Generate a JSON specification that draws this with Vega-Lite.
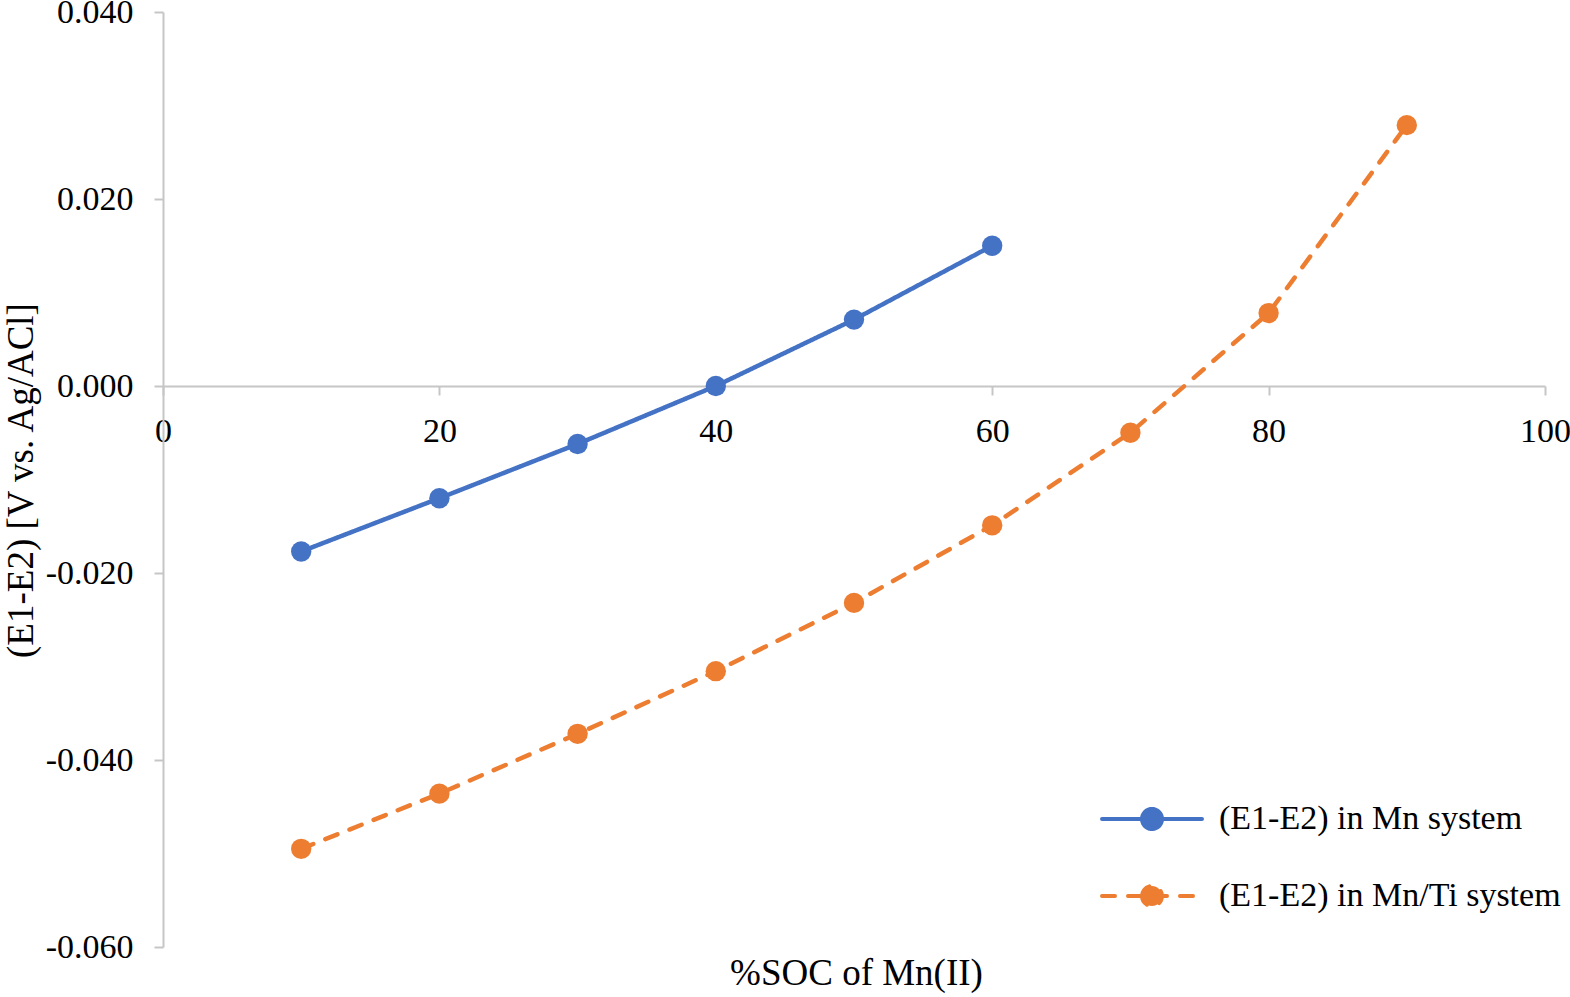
{
  "$schema": "https://vega.github.io/schema/vega-lite/v6.json",
  "width": 1382,
  "height": 935,
  "autosize": {"type": "none"},
  "padding": {"left": 163, "top": 12, "right": 25, "bottom": 50},
  "background": "white",
  "config": {
    "view": {"stroke": null},
    "font": "Liberation Serif",
    "axis": {"grid": false, "domainColor": "#c6c6c6", "domainWidth": 2, "tickColor": "#c6c6c6", "tickWidth": 2, "tickSize": 9, "labelFont": "Liberation Serif", "labelFontSize": 34, "labelColor": "#000000", "titleFont": "Liberation Serif", "titleFontSize": 37, "titleFontWeight": "normal", "titleColor": "#000000"}
  },
  "data": {
    "values": [
      {"series": "(E1-E2) in Mn system", "soc": 10, "diff": -0.0177},
      {"series": "(E1-E2) in Mn system", "soc": 20, "diff": -0.0120},
      {"series": "(E1-E2) in Mn system", "soc": 30, "diff": -0.0062},
      {"series": "(E1-E2) in Mn system", "soc": 40, "diff": 0.0},
      {"series": "(E1-E2) in Mn system", "soc": 50, "diff": 0.0071},
      {"series": "(E1-E2) in Mn system", "soc": 60, "diff": 0.0150},
      {"series": "(E1-E2) in Mn/Ti system", "soc": 10, "diff": -0.0495},
      {"series": "(E1-E2) in Mn/Ti system", "soc": 20, "diff": -0.0436},
      {"series": "(E1-E2) in Mn/Ti system", "soc": 30, "diff": -0.0372},
      {"series": "(E1-E2) in Mn/Ti system", "soc": 40, "diff": -0.0305},
      {"series": "(E1-E2) in Mn/Ti system", "soc": 50, "diff": -0.0232},
      {"series": "(E1-E2) in Mn/Ti system", "soc": 60, "diff": -0.0149},
      {"series": "(E1-E2) in Mn/Ti system", "soc": 70, "diff": -0.0050},
      {"series": "(E1-E2) in Mn/Ti system", "soc": 80, "diff": 0.0078},
      {"series": "(E1-E2) in Mn/Ti system", "soc": 90, "diff": 0.0279}
    ]
  },
  "encoding": {
    "x": {
      "field": "soc", "type": "quantitative",
      "scale": {"domain": [0, 100], "nice": false, "zero": false},
      "axis": {"title": "%SOC of Mn(II)", "values": [0, 20, 40, 60, 80, 100], "offset": -561, "labelPadding": 19, "labelOverlap": false, "labelFlush": false, "labelBound": false, "titleY": 587, "titleBaseline": "middle", "titleX": 693}
    },
    "y": {
      "field": "diff", "type": "quantitative",
      "scale": {"domain": [-0.06, 0.04], "nice": false, "zero": false},
      "axis": {
        "title": "(E1-E2) [V vs. Ag/ACl]", "values": [-0.06, -0.04, -0.02, 0, 0.02, 0.04],
        "labelExpr": "(datum.value < 0 ? '-' : '') + format(abs(datum.value), '.3f')",
        "labelPadding": 21, "labelOverlap": false, "labelFlush": false, "labelBound": false,
        "titleX": -142, "titleY": 468, "titleBaseline": "middle", "titleAngle": 270,
        "encode": {"labels": {"update": {"dy": {"signal": "datum.value > 0.039 ? 5 : 0"}}}}
      }
    },
    "color": {
      "field": "series", "type": "nominal",
      "scale": {"domain": ["(E1-E2) in Mn system", "(E1-E2) in Mn/Ti system"], "range": ["#4472C4", "#ED7D31"]},
      "legend": {
        "title": null, "orient": "none", "legendX": 972, "legendY": 790, "padding": 0,
        "labelFont": "Liberation Serif", "labelFontSize": 34, "labelColor": "#000000", "labelOffset": 50, "labelLimit": 0, "rowPadding": 41,
        "symbolType": "M-5,0H5M-1,0A1,1 0 1,1 1,0A1,1 0 1,1 -1,0",
        "symbolSize": 400, "symbolStrokeWidth": 4,
        "encode": {"symbols": {"update": {"fill": {"scale": "color", "field": "value"}, "stroke": {"scale": "color", "field": "value"}, "opacity": {"value": 1}, "strokeCap": {"value": "round"}}}}
      }
    },
    "strokeDash": {
      "field": "series", "type": "nominal",
      "scale": {"domain": ["(E1-E2) in Mn system", "(E1-E2) in Mn/Ti system"], "range": [[1, 0], [13, 13]]},
      "legend": null
    }
  },
  "layer": [
    {"mark": {"type": "line", "strokeWidth": 4.5, "strokeCap": "round"}},
    {"mark": {"type": "point", "filled": true, "size": 415, "opacity": 1}, "encoding": {"strokeDash": {"value": [1, 0]}}}
  ]
}
